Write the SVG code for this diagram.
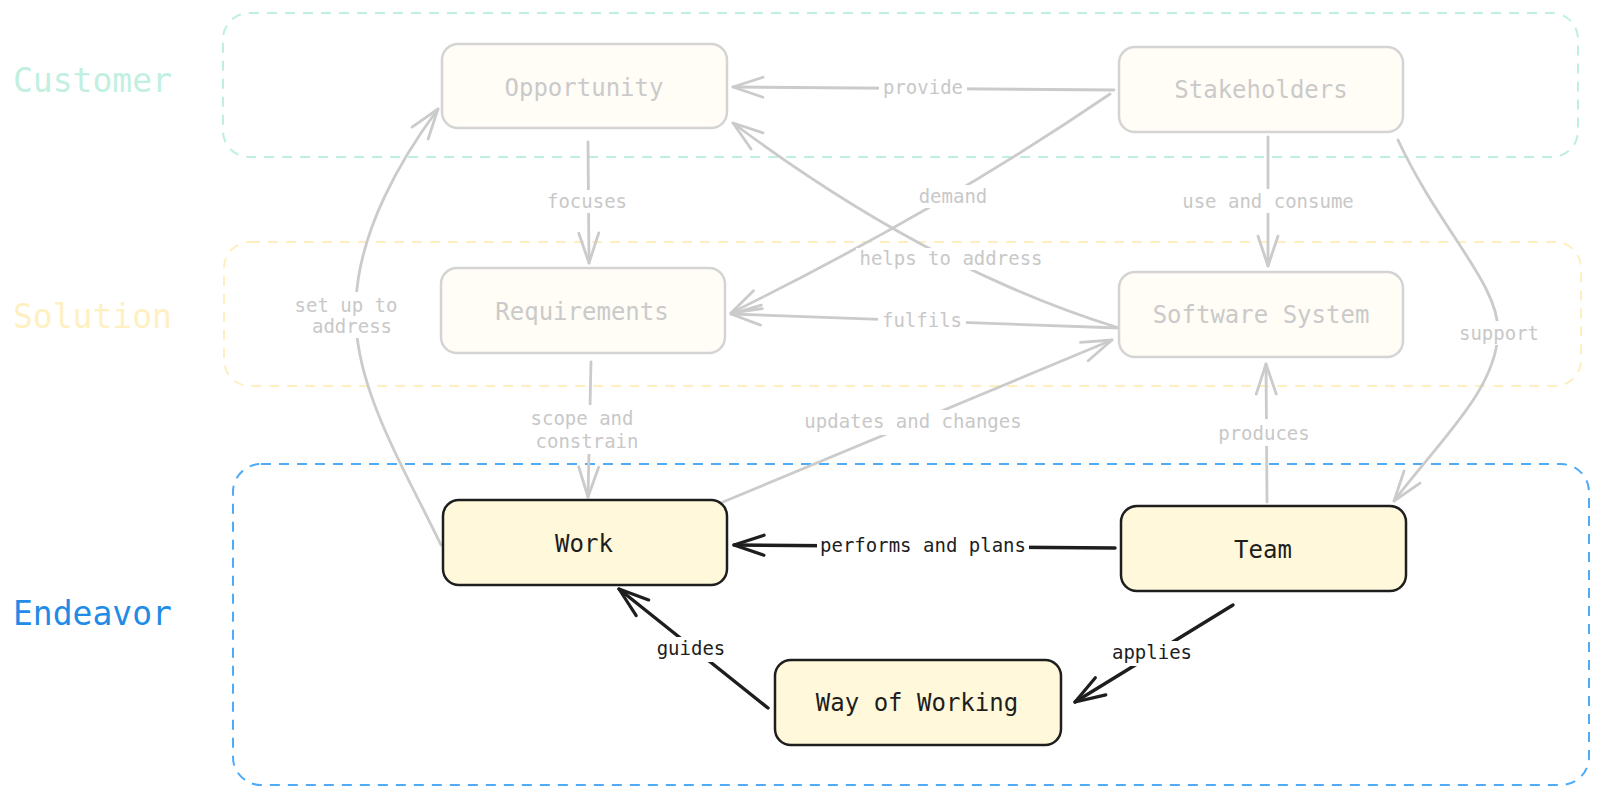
<svg xmlns="http://www.w3.org/2000/svg" width="1600" height="798" viewBox="0 0 1600 798">
<style>
  text { font-family: "DejaVu Sans Mono", "Liberation Mono", monospace; }
  .grp { fill: none; stroke-width: 2; stroke-dasharray: 10 8; }
  .glabel { font-size: 33px; }
  .fnode { fill: #fffdf6; stroke: #d4d4d4; stroke-width: 2.5; }
  .fnt { font-size: 24px; fill: #cacaca; text-anchor: middle; }
  .node { fill: #fff8db; stroke: #1e1e1e; stroke-width: 2.5; }
  .nt { font-size: 24px; fill: #1e1e1e; text-anchor: middle; }
  .gl { fill: none; stroke: #cbcbcb; stroke-width: 2.8; stroke-linecap: round; }
  .bl { fill: none; stroke: #1e1e1e; stroke-width: 3.4; stroke-linecap: round; }
  .lbg { fill: #ffffff; }
  .glt { font-size: 19px; fill: #c8c8c8; text-anchor: middle; }
  .blt { font-size: 19px; fill: #1e1e1e; text-anchor: middle; }
</style>
<defs>
  <marker id="ag" markerUnits="userSpaceOnUse" viewBox="-34 -14 38 28" markerWidth="38" markerHeight="28" refX="0" refY="0" orient="auto">
    <path d="M-30,-10 L0,0 L-30,10" fill="none" stroke="#cbcbcb" stroke-width="2.8" stroke-linecap="round" stroke-linejoin="round"/>
  </marker>
  <marker id="ab" markerUnits="userSpaceOnUse" viewBox="-34 -14 38 28" markerWidth="38" markerHeight="28" refX="0" refY="0" orient="auto">
    <path d="M-30,-10 L0,0 L-30,10" fill="none" stroke="#1e1e1e" stroke-width="3.2" stroke-linecap="round" stroke-linejoin="round"/>
  </marker>
</defs>
<rect width="1600" height="798" fill="#ffffff"/>

<g id="group-customer">
  <rect class="grp" x="223" y="13" width="1355" height="144" rx="26" stroke="#bff0df"/>
  <text class="glabel" x="13" y="92" fill="#c2f0e0">Customer</text>
</g>
<g id="group-solution">
  <rect class="grp" x="224" y="242" width="1357" height="144" rx="26" stroke="#ffefbf"/>
  <text class="glabel" x="13" y="328" fill="#fff0c2">Solution</text>
</g>
<g id="group-endeavor">
  <rect class="grp" x="233" y="464" width="1356" height="321" rx="28" stroke="#4dabf7" stroke-width="2.8"/>
  <text class="glabel" x="13" y="625" fill="#228be6">Endeavor</text>
</g>

<g id="connectors">
  <path class="gl" d="M1114,90 L733,87" marker-end="url(#ag)"/>
  <path class="gl" d="M1110,94 Q940,210 731,313" marker-end="url(#ag)"/>
  <path class="gl" d="M1119,328 Q930,270 733,123" marker-end="url(#ag)"/>
  <path class="gl" d="M1119,328 L731,314" marker-end="url(#ag)"/>
  <path class="gl" d="M588,142 L589,263" marker-end="url(#ag)"/>
  <path class="gl" d="M1268,137 L1268,266" marker-end="url(#ag)"/>
  <path class="gl" d="M1398,140 C1440,230 1500,285 1498,333 C1496,390 1440,440 1394,501" marker-end="url(#ag)"/>
  <path class="gl" d="M441,545 C400,460 350,380 356,300 C360,230 400,160 438,109" marker-end="url(#ag)"/>
  <path class="gl" d="M591,362 L588,497" marker-end="url(#ag)"/>
  <path class="gl" d="M723,502 L1112,340" marker-end="url(#ag)"/>
  <path class="gl" d="M1267,502 L1266,364" marker-end="url(#ag)"/>
  <path class="bl" d="M1115,548 L734,545" marker-end="url(#ab)"/>
  <path class="bl" d="M768,708 L619,589" marker-end="url(#ab)"/>
  <path class="bl" d="M1233,605 L1075,702" marker-end="url(#ab)"/>

  <rect class="lbg" x="879" y="78" width="88" height="22"/>
  <text class="glt" x="923" y="94">provide</text>
  <rect class="lbg" x="915" y="185" width="76" height="23"/>
  <text class="glt" x="953" y="203">demand</text>
  <rect class="lbg" x="856" y="248" width="190" height="22"/>
  <text class="glt" x="951" y="265">helps to address</text>
  <rect class="lbg" x="878" y="310" width="88" height="23"/>
  <text class="glt" x="922" y="327">fulfils</text>
  <rect class="lbg" x="543" y="190" width="88" height="23"/>
  <text class="glt" x="587" y="208">focuses</text>
  <rect class="lbg" x="1178" y="189" width="180" height="24"/>
  <text class="glt" x="1268" y="208">use and consume</text>
  <rect class="lbg" x="1457" y="321" width="84" height="24"/>
  <text class="glt" x="1499" y="340">support</text>
  <rect class="lbg" x="290" y="292" width="112" height="46"/>
  <text class="glt" x="346" y="312">set up to</text>
  <text class="glt" x="352" y="333">address</text>
  <rect class="lbg" x="528" y="405" width="116" height="49"/>
  <text class="glt" x="582" y="425">scope and</text>
  <text class="glt" x="587" y="448">constrain</text>
  <rect class="lbg" x="800" y="410" width="226" height="25"/>
  <text class="glt" x="913" y="428">updates and changes</text>
  <rect class="lbg" x="1214" y="419" width="100" height="27"/>
  <text class="glt" x="1264" y="440">produces</text>
  <rect class="lbg" x="817" y="535" width="212" height="23"/>
  <text class="blt" x="923" y="552">performs and plans</text>
  <rect class="lbg" x="653" y="637" width="76" height="25"/>
  <text class="blt" x="691" y="655">guides</text>
  <rect class="lbg" x="1108" y="641" width="88" height="25"/>
  <text class="blt" x="1152" y="659">applies</text>
</g>

<g id="node-opportunity">
  <rect class="fnode" x="442" y="44" width="285" height="84" rx="16"/>
  <text class="fnt" x="584" y="96">Opportunity</text>
</g>
<g id="node-stakeholders">
  <rect class="fnode" x="1119" y="47" width="284" height="85" rx="16"/>
  <text class="fnt" x="1261" y="98">Stakeholders</text>
</g>
<g id="node-requirements">
  <rect class="fnode" x="441" y="268" width="284" height="85" rx="16"/>
  <text class="fnt" x="582" y="320">Requirements</text>
</g>
<g id="node-software-system">
  <rect class="fnode" x="1119" y="272" width="284" height="85" rx="16"/>
  <text class="fnt" x="1261" y="323">Software System</text>
</g>
<g id="node-work">
  <rect class="node" x="443" y="500" width="284" height="85" rx="16"/>
  <text class="nt" x="584" y="552">Work</text>
</g>
<g id="node-team">
  <rect class="node" x="1121" y="506" width="285" height="85" rx="16"/>
  <text class="nt" x="1263" y="558">Team</text>
</g>
<g id="node-way-of-working">
  <rect class="node" x="775" y="660" width="286" height="85" rx="16"/>
  <text class="nt" x="917" y="711">Way of Working</text>
</g>
</svg>
